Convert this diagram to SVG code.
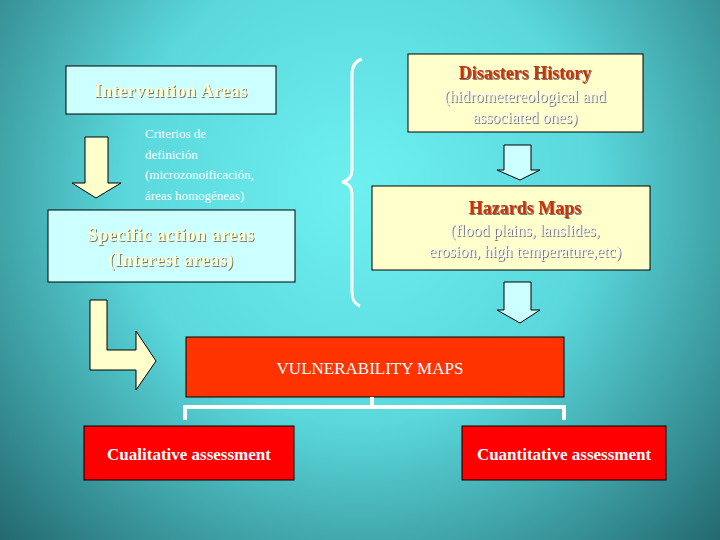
<svg xmlns="http://www.w3.org/2000/svg" width="720" height="540" viewBox="0 0 720 540">
<defs>
<radialGradient id="bg" cx="360" cy="190" r="520" gradientUnits="userSpaceOnUse">
<stop offset="0" stop-color="#6ef0f0"/><stop offset="0.45" stop-color="#5ad8dc"/><stop offset="1" stop-color="#1f6268"/>
</radialGradient>
<filter id="sh"><feDropShadow dx="1" dy="1" stdDeviation="0.3" flood-color="#777"/></filter>
</defs>
<style>
.lb{fill:#ccffff;stroke:#000;stroke-width:1}
.ly{fill:#ffffcc;stroke:#000;stroke-width:1}
.red{stroke:#000;stroke-width:1}
text{font-family:"Liberation Serif","Times New Roman",serif;text-anchor:middle}
.pale{fill:#ffffcc;font-size:18px;font-weight:bold;letter-spacing:0.5px;filter:url(#sh)}
.wh{fill:#f4f4f4;font-size:16px;filter:url(#sh)}
.tit{fill:#cc3300;font-size:18px;font-weight:bold;filter:url(#sh)}
.wb{fill:#fff;font-size:17px;font-weight:bold}
</style>
<rect width="720" height="540" fill="url(#bg)"/>
<g id="intervention"><rect class="lb" x="66" y="66" width="210" height="48"/><text class="pale" x="171" y="97">Intervention Areas</text></g>
<g id="criterios"><text x="145" y="138" style="text-anchor:start;fill:#fff;font-size:13px;font-family:'Liberation Serif',serif">Criterios de<tspan x="145" dy="20.5">definición</tspan><tspan x="145" dy="20.5">(microzonoificación,</tspan><tspan x="145" dy="20.5">áreas homogéneas)</tspan></text></g>
<g id="specific"><rect class="lb" x="48" y="210" width="247" height="72"/><text class="pale" x="171" y="241">Specific action areas<tspan x="171" dy="25">(Interest areas)</tspan></text></g>
<g id="disasters"><rect class="ly" x="408" y="54" width="235" height="78"/><text class="tit" x="525" y="79">Disasters History</text><text class="wh" x="525" y="102">(hidrometereological and<tspan x="525" dy="21">associated ones)</tspan></text></g>
<g id="hazards"><rect class="ly" x="372" y="186" width="278" height="84"/><text class="tit" x="525" y="214">Hazards Maps</text><text class="wh" x="525" y="236">(flood plains, lanslides,<tspan x="525" dy="21">erosion, high temperature,etc)</tspan></text></g>
<g id="vulnerability"><rect class="red" x="186" y="337" width="378" height="60" fill="#ff3300"/><text class="wb" x="370" y="374" style="font-weight:normal">VULNERABILITY MAPS</text></g>
<g id="cualitative"><rect class="red" x="84" y="426" width="210" height="54" fill="#ff0000"/><text class="wb" x="189" y="460">Cualitative assessment</text></g>
<g id="cuantitative"><rect class="red" x="462" y="426" width="204" height="54" fill="#ff0000"/><text class="wb" x="564" y="460">Cuantitative assessment</text></g>
<g id="connectors">
<polygon points="85,137 108,137 108,183 121,183 96,198 72,183 85,183" fill="#ffffcc" stroke="#000"/>
<polygon points="504,145 531,145 531,170 540,170 520,180 497,170 504,170" fill="#ccffff" stroke="#000"/>
<polygon points="504,282 531,282 531,310 540,310 520,323 497,310 504,310" fill="#ccffff" stroke="#000"/>
<polygon points="90,300 107,300 107,350 136,350 136,331 156,361 136,390 136,370 90,370" fill="#ffffcc" stroke="#000"/>
<path d="M362,59 Q352,62 352,75 L352,170 Q352,180 342,182 Q352,184 352,194 L352,292 Q352,303 360,306" fill="none" stroke="#fff" stroke-width="3"/>
<path d="M372,397 V407 M185,420 V407 H564 V420" fill="none" stroke="#fff" stroke-width="4"/>
</g>
</svg>
